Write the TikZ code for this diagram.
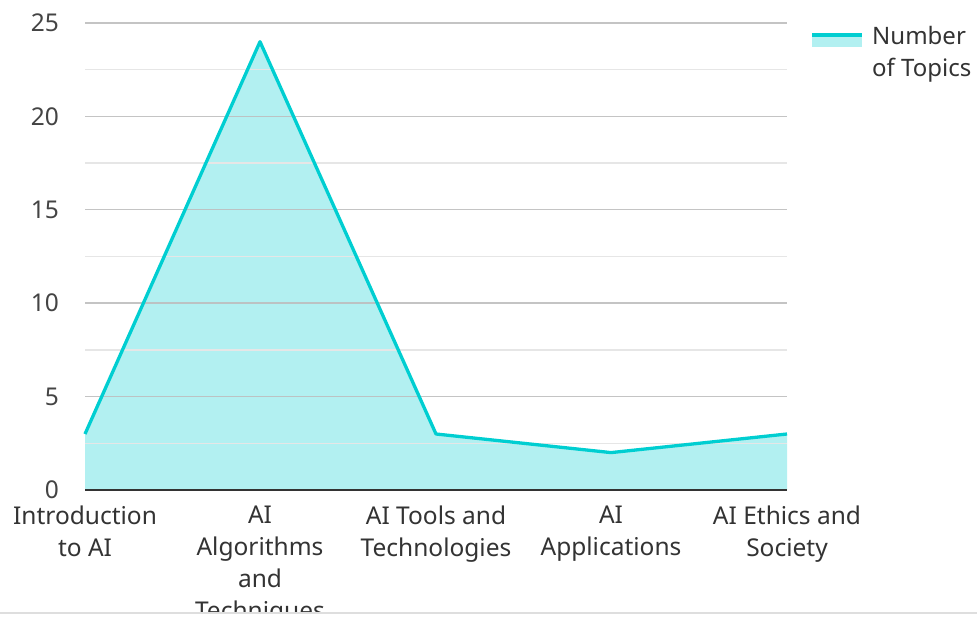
\documentclass[tikz,border=0pt]{standalone}
\usepackage{fontspec}
\setmainfont{Noto Sans}
\definecolor{teal1}{HTML}{00CED1}
\definecolor{fillc}{HTML}{B2F0F1}
\definecolor{majg}{HTML}{BEBEBE}
\definecolor{ming}{HTML}{E6E6E6}
\definecolor{axisc}{HTML}{333333}
\definecolor{tickc}{HTML}{444444}
\begin{document}
\begin{tikzpicture}[x=1pt,y=-1pt,
  ticklab/.style={anchor=east,text=tickc,font=\fontsize{24.5}{32}\selectfont,inner sep=0pt},
  catlab/.style={anchor=north,text=axisc,font=\fontsize{24.5}{32}\selectfont,align=center,inner sep=0pt},
  majline/.style={draw=majg,line width=1.4pt},
  minline/.style={draw=ming,line width=1.4pt},
  dataline/.style={draw=teal1,line width=3.3pt,line join=round}]
\useasboundingbox (0,0) rectangle (977,617);
% fill
\fill[fillc] (85,490) -- (85,434) -- (260,41.7) -- (436,434) -- (611,452.6) -- (787,434) -- (787,490) -- cycle;
% grid
\foreach \v in {2.5,7.5,12.5,17.5,22.5}{
  \draw[minline] (85,{490-18.68*\v}) -- (787,{490-18.68*\v});
}
\foreach \v in {5,10,15,20,25}{
  \draw[majline,opacity=0.9] (85,{490-18.68*\v}) -- (787,{490-18.68*\v});
}
\foreach \v in {0,5,10,15,20,25}{
  \node[ticklab] (t\v) at (59,{490-18.68*\v}) {\v};
}
% data
\coordinate (p1) at (85,434);
\coordinate (p2) at (260,41.7);
\coordinate (p3) at (436,434);
\coordinate (p4) at (611,452.6);
\coordinate (p5) at (787,434);
\draw[dataline] (p1) -- (p2) -- (p3) -- (p4) -- (p5);
% axis
\draw[draw=axisc,line width=2.2pt] (85,490) -- (787,490);
% category labels (clipped)
\begin{scope}
\clip (0,0) rectangle (977,612);
\node[catlab] (c1) at (85,506) {Introduction\\to AI};
\node[catlab] (c2) at (260,506) {AI\\Algorithms\\and\\Techniques};
\node[catlab] (c3) at (436,506) {AI Tools and\\Technologies};
\node[catlab] (c4) at (611,506) {AI\\Applications};
\node[catlab] (c5) at (787,506) {AI Ethics and\\Society};
\end{scope}
\draw[draw=ming!80!majg,line width=1.5pt] (0,613) -- (977,613);
% legend
\fill[fillc] (812,35) rectangle (862,47);
\draw[draw=teal1,line width=4pt] (812,35) -- (862,35);
\node[anchor=north west,text=axisc,font=\fontsize{24}{32}\selectfont,align=left,inner sep=0pt] (leg) at (872,26) {Number\\of Topics};
\end{tikzpicture}
\end{document}
